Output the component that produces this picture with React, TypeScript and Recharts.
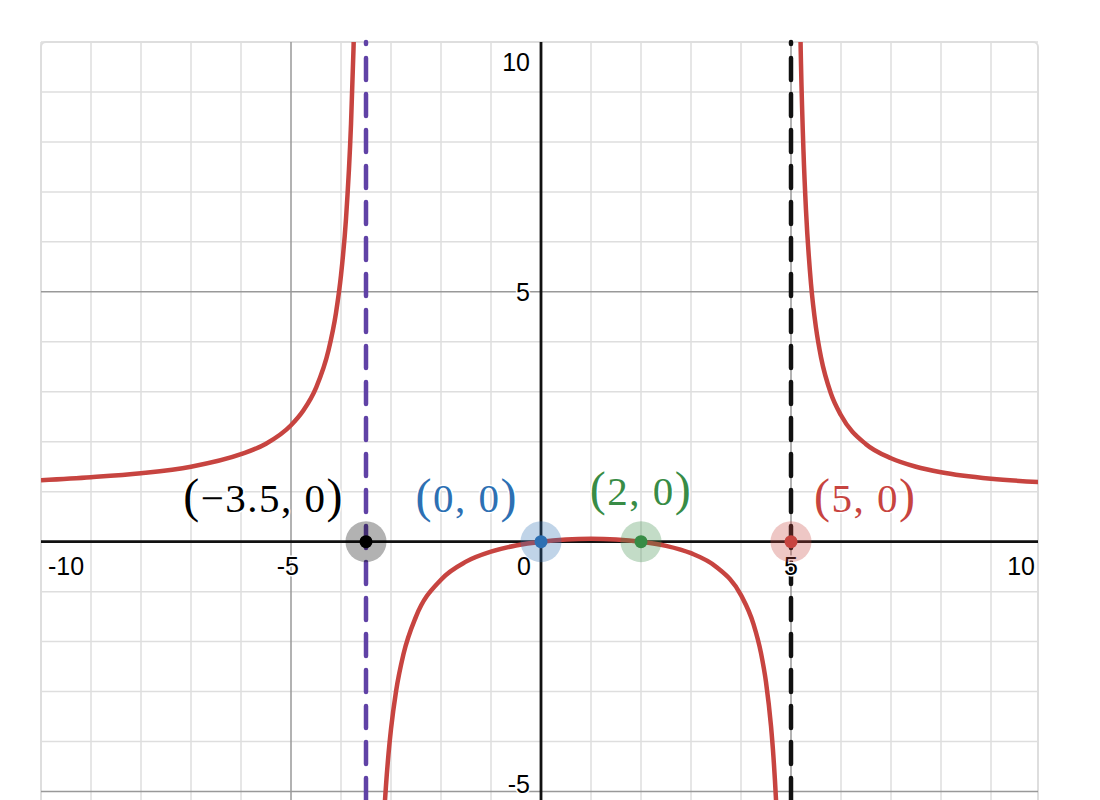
import React from "react";
import {
  LineChart, Line, XAxis, YAxis, ReferenceLine, ReferenceDot, ReferenceArea,
} from "recharts";

// visible window of the graph paper
const X_DOMAIN: [number, number] = [-10, 9.94];
const Y_DOMAIN: [number, number] = [-5.17, 10];

// red curve, one array per branch: [x, y]
const LEFT_BRANCH: [number, number][] = [
  [-10, 1.23], [-9, 1.29], [-8, 1.37], [-7, 1.5], [-6, 1.75], [-5.5, 1.96],
  [-5, 2.33], [-4.75, 2.63], [-4.5, 3.08], [-4.25, 3.83], [-4.1, 4.58], [-4, 5.33],
  [-3.9, 6.46], [-3.8, 8.35], [-3.75, 9.86], [-3.7, 12.1], [-3.65, 15.9],
];
const MIDDLE_BRANCH: [number, number][] = [
  [-3.35, -14.3], [-3.25, -8.27], [-3.2, -6.76], [-3.15, -5.69], [-3.1, -4.88],
  [-3.05, -4.25], [-3, -3.75], [-2.9, -3.0], [-2.75, -2.25], [-2.5, -1.5], [-2, -0.76],
  [-1.5, -0.4], [-1, -0.2], [-0.5, -0.076], [0, 0], [0.5, 0.042], [1, 0.056],
  [1.5, 0.043], [2, 0], [2.5, -0.083], [3, -0.23], [3.5, -0.5], [4, -1.07],
  [4.25, -1.65], [4.4, -2.23], [4.5, -2.81], [4.6, -3.69], [4.65, -4.32],
  [4.7, -5.16], [4.75, -6.33], [4.85, -11.0],
];
const RIGHT_BRANCH: [number, number][] = [
  [5.1, 18.4], [5.15, 12.5], [5.2, 9.56], [5.25, 7.8], [5.3, 6.63], [5.4, 5.16],
  [5.5, 4.28], [5.6, 3.69], [5.8, 2.96], [6, 2.53], [6.5, 1.95], [7, 1.67],
  [7.5, 1.5], [8, 1.39], [9, 1.26], [10, 1.19],
];

// asymptotes
const ASYMPTOTE_X = [-3.5, 5];
const ASYMPTOTE_COLORS = ["#6042a6", "#111111"];

// labelled points on the x axis
const POINT_X = [-3.5, 0, 2, 5];
const POINT_LABELS = ["−3.5, 0", "0, 0", "2, 0", "5, 0"];
const POINT_COLORS = ["#000000", "#2d70b3", "#388c46", "#c74440"];

// grid + tick labels
const MINOR_X = [-10, -9, -8, -7, -6, -4, -3, -2, -1, 1, 2, 3, 4, 6, 7, 8, 9];
const MAJOR_X = [-5, 5];
const MINOR_Y = [-4, -3, -2, -1, 1, 2, 3, 4, 6, 7, 8, 9, 10];
const MAJOR_Y = [-5, 5];
const X_TICKS = [-10, -5, 0, 5, 10];
const Y_TICKS = [10, 5, -5];

const toRows = (pts: [number, number][]) => pts.map(([x, y]) => ({ x, y }));

const TICK_FONT = "'Liberation Sans', Arimo, Arial, sans-serif";
const MATH_FONT = "'Liberation Serif', 'Times New Roman', serif";

// how each tick / point label sits against its anchor
const X_TICK_PLACE: Record<number, { anchor: "start" | "middle" | "end"; dx: number }> = {
  [-10]: { anchor: "start", dx: 7 },
  [-5]: { anchor: "end", dx: 8 },
  [0]: { anchor: "end", dx: -10 },
  [5]: { anchor: "middle", dx: 0 },
  [10]: { anchor: "end", dx: -6 },
};
const Y_TICK_DY: Record<number, number> = { [10]: 29, [5]: 9, [-5]: 1 };
const POINT_PLACE: { anchor: "start" | "middle" | "end"; dx: number; dy: number }[] = [
  { anchor: "end", dx: -22, dy: -30 },
  { anchor: "end", dx: -23, dy: -30 },
  { anchor: "middle", dx: 0, dy: -37 },
  { anchor: "start", dx: 23, dy: -30 },
];

const haloText = {
  stroke: "#ffffff",
  strokeWidth: 3,
  paintOrder: "stroke" as const,
  strokeLinejoin: "round" as const,
};

export default function App() {
  return (
    <div style={{ position: "absolute", left: 0, top: 0, width: 1100, height: 800, background: "#fff", overflow: "hidden" }}>
      <LineChart width={1100} height={800} margin={{ top: 42, right: 62, bottom: 0, left: 41 }}>
        <XAxis dataKey="x" type="number" domain={X_DOMAIN} allowDataOverflow hide />
        <YAxis type="number" domain={Y_DOMAIN} allowDataOverflow hide />

        {MINOR_X.map((v) => (
          <ReferenceLine key={`mx${v}`} x={v} stroke="#dedede" strokeWidth={1.5} />
        ))}
        {MINOR_Y.map((v) => (
          <ReferenceLine key={`my${v}`} y={v} stroke="#dedede" strokeWidth={1.5} />
        ))}
        {MAJOR_X.map((v) => (
          <ReferenceLine key={`Mx${v}`} x={v} stroke="#999999" strokeWidth={1.5} />
        ))}
        {MAJOR_Y.map((v) => (
          <ReferenceLine key={`My${v}`} y={v} stroke="#999999" strokeWidth={1.5} />
        ))}
        <ReferenceArea
          x1={X_DOMAIN[0]} x2={X_DOMAIN[1]} y1={Y_DOMAIN[0]} y2={Y_DOMAIN[1]}
          shape={(p: any) => (
            <rect x={p.x} y={p.y} width={p.width} height={p.height + 10} rx={5}
              fill="none" stroke="#dedede" strokeWidth={2} />
          )}
        />

        <ReferenceLine y={0} stroke="#111111" strokeWidth={2.8} />
        <ReferenceLine x={0} stroke="#111111" strokeWidth={2.8} />

        {X_TICKS.map((v) => (
          <ReferenceDot key={`xt${v}`} x={v} y={0} ifOverflow="visible"
            shape={(p: any) => (
              <text x={p.cx + X_TICK_PLACE[v].dx} y={p.cy + 33} textAnchor={X_TICK_PLACE[v].anchor}
                fontFamily={TICK_FONT} fontSize={25} fill="#000" {...haloText}>
                {v}
              </text>
            )}
          />
        ))}
        {Y_TICKS.map((v) => (
          <ReferenceDot key={`yt${v}`} x={0} y={v} ifOverflow="visible"
            shape={(p: any) => (
              <text x={p.cx - 11} y={p.cy + Y_TICK_DY[v]} textAnchor="end"
                fontFamily={TICK_FONT} fontSize={25} fill="#000" {...haloText}>
                {v}
              </text>
            )}
          />
        ))}

        {[LEFT_BRANCH, MIDDLE_BRANCH, RIGHT_BRANCH].map((b, i) => (
          <Line key={`branch${i}`} data={toRows(b)} dataKey="y" type="monotone"
            stroke="#c74440" strokeWidth={4.5} dot={false} activeDot={false}
            isAnimationActive={false} />
        ))}

        {ASYMPTOTE_X.map((v, i) => (
          <ReferenceLine key={`as${v}`} x={v} stroke={ASYMPTOTE_COLORS[i]} strokeWidth={4.5}
            strokeDasharray="22 14" strokeLinecap="round" />
        ))}

        {POINT_X.map((v, i) => (
          <ReferenceDot key={`pt${v}`} x={v} y={0} ifOverflow="visible"
            shape={(p: any) => (
              <g>
                <circle cx={p.cx} cy={p.cy} r={20.5} fill={POINT_COLORS[i]} fillOpacity={0.3} />
                <circle cx={p.cx} cy={p.cy} r={6.5} fill={POINT_COLORS[i]} />
                <text x={p.cx + POINT_PLACE[i].dx} y={p.cy + POINT_PLACE[i].dy}
                  textAnchor={POINT_PLACE[i].anchor} fontFamily={MATH_FONT} fontSize={41}
                  letterSpacing={1.5} fill={POINT_COLORS[i]} {...haloText}>
                  <tspan fontSize={48}>(</tspan>
                  {POINT_LABELS[i]}
                  <tspan fontSize={48}>)</tspan>
                </text>
              </g>
            )}
          />
        ))}
      </LineChart>
    </div>
  );
}
